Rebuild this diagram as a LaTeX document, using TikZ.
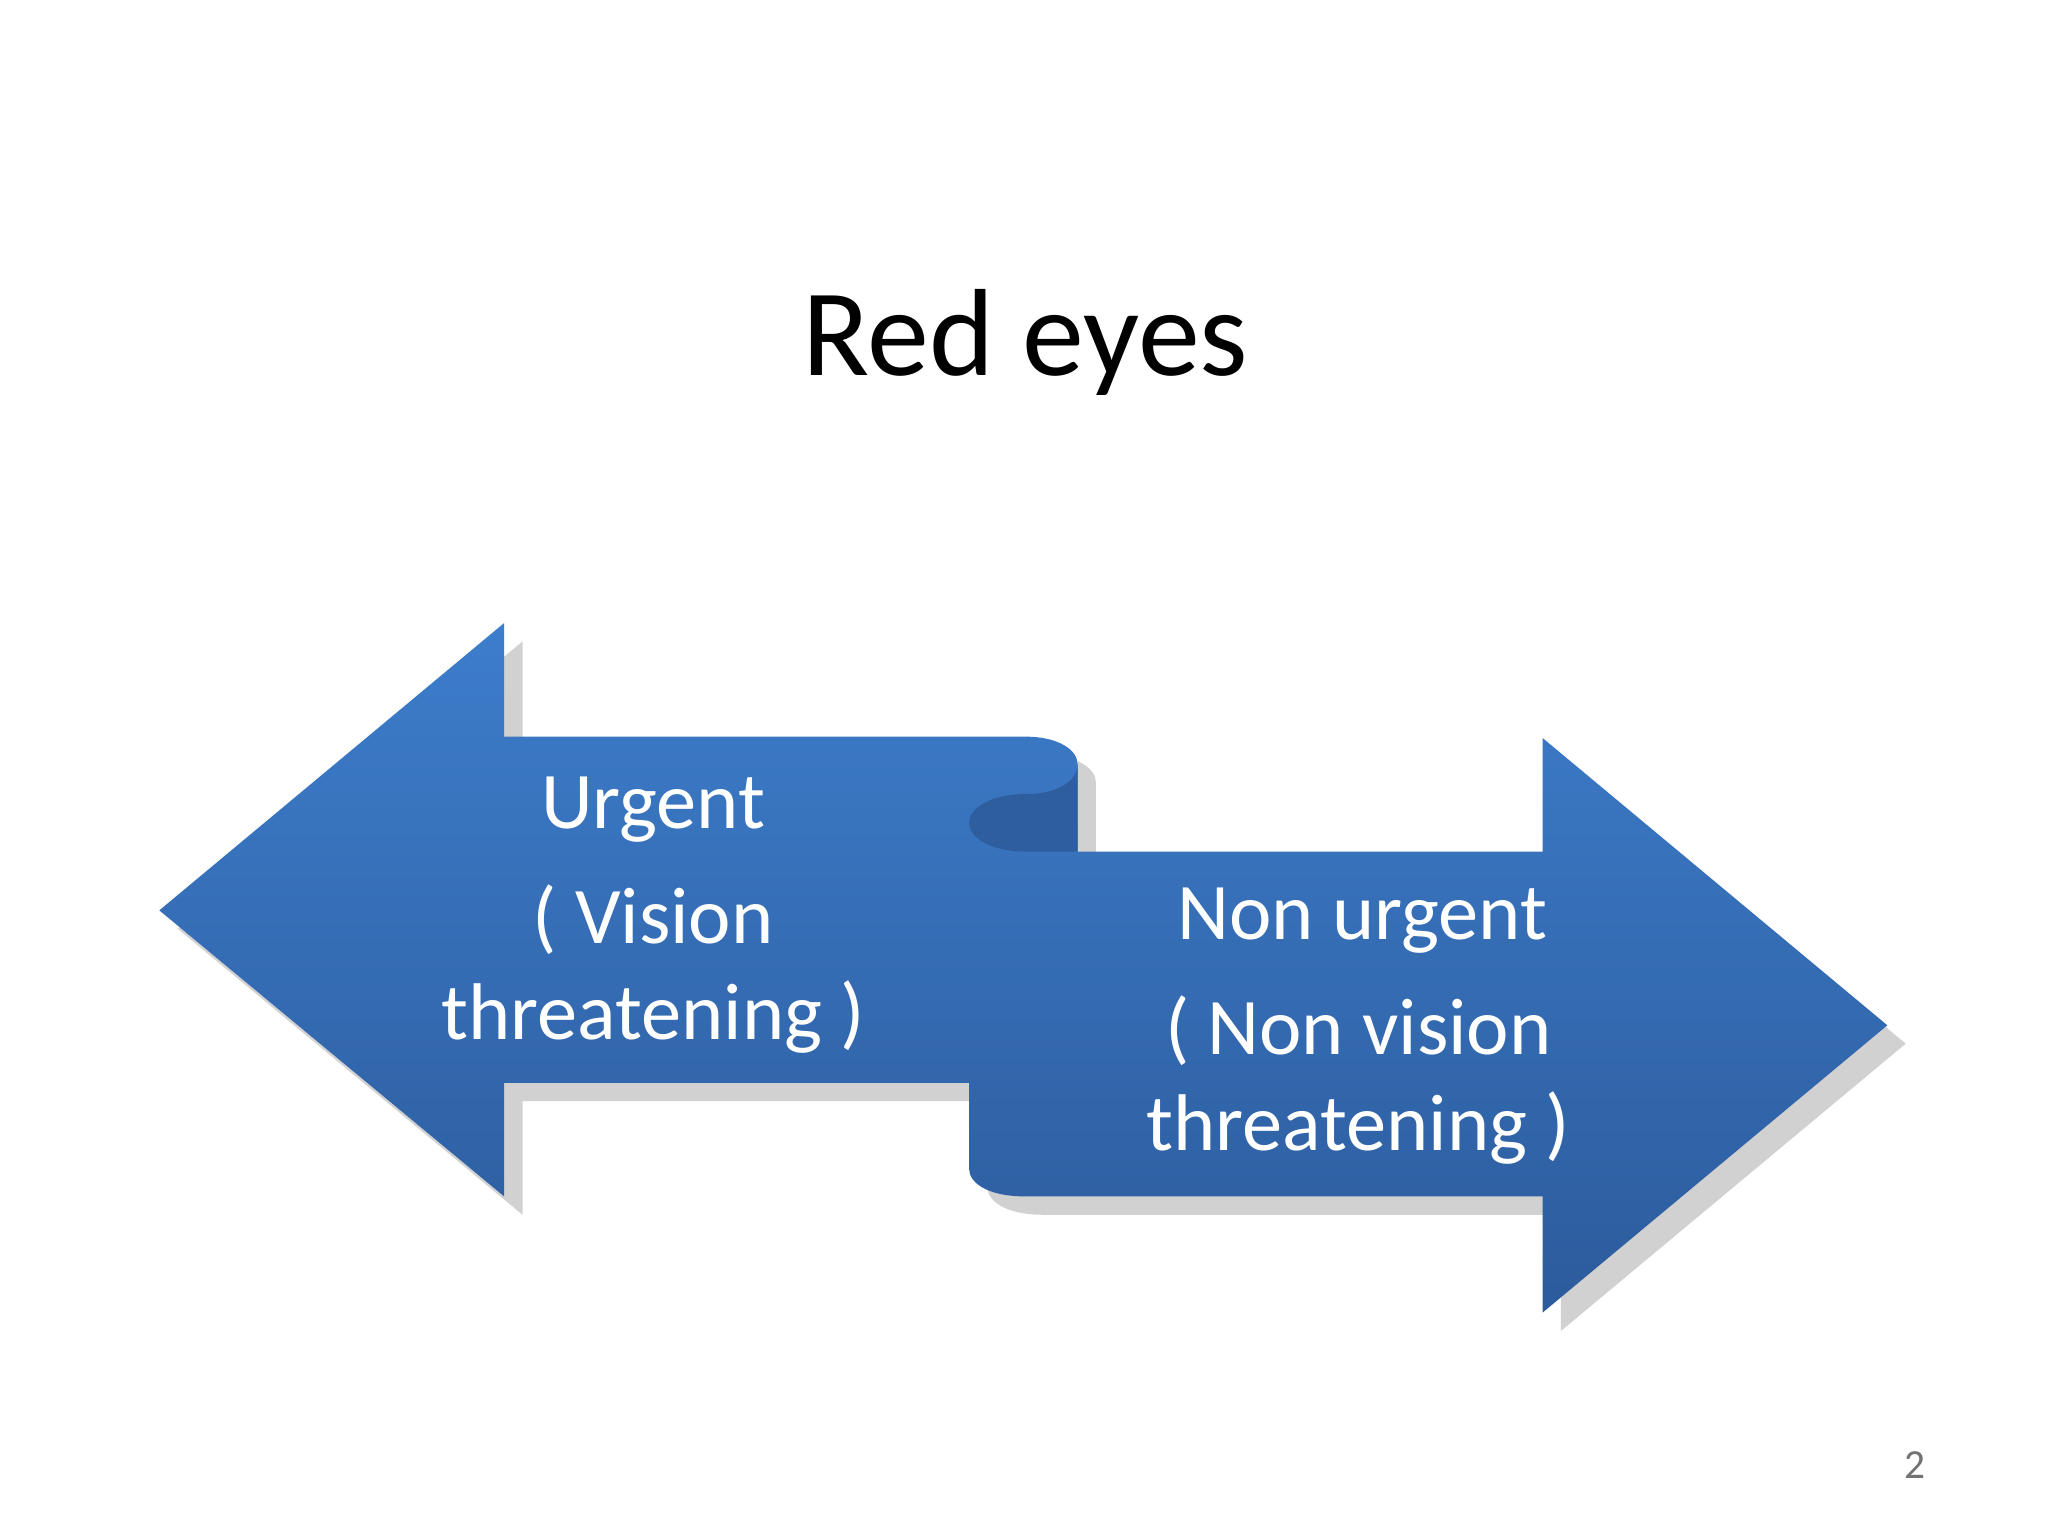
\documentclass[tikz,border=0pt]{standalone}
\usepackage{fontspec}
\setmainfont{Carlito}
\definecolor{atop}{HTML}{3D7DCB}
\definecolor{abot}{HTML}{2C5B9C}
\definecolor{curl}{HTML}{2F5E9E}
\begin{document}
\begin{tikzpicture}[x=0.01cm,y=-0.01cm,
  lbl/.style={text=white,font=\fontsize{17.5pt}{21pt}\selectfont,align=center,inner sep=0pt}]
\useasboundingbox (0,0) rectangle (1568,1176);
\fill[white] (0,0) rectangle (1568,1176);
\node[font=\fontsize{27pt}{32pt}\selectfont,inner sep=0pt] (title) at (785,262) {Red eyes};
% shadow
\fill[black!18,xshift=4,yshift=-4] (122,697) -- (386,477) -- (386,564) -- (785,564)
  .. controls (810,564) and (825,574) .. (825,585) -- (825,652) -- (1181,652) -- (1181,565)
  -- (1445,785) -- (1181,1005) -- (1181,916) -- (785,916)
  .. controls (755,916) and (742,905) .. (742,895) -- (742,829) -- (386,829) -- (386,916) -- cycle;
\shade[top color=atop,bottom color=abot] (122,697) -- (386,477) -- (386,564) -- (785,564)
  .. controls (810,564) and (825,574) .. (825,585) -- (825,652) -- (1181,652) -- (1181,565)
  -- (1445,785) -- (1181,1005) -- (1181,916) -- (785,916)
  .. controls (755,916) and (742,905) .. (742,895) -- (742,829) -- (386,829) -- (386,916) -- cycle;
\fill[curl] (825,585) .. controls (825,598) and (810,608) .. (785,608)
  .. controls (760,608) and (742,618) .. (742,630)
  .. controls (742,642) and (760,652) .. (785,652) -- (825,652) -- cycle;
\node[lbl] (u1) at (500,620) {Urgent};
\node[lbl] (u2) at (500,742) {( Vision\\threatening )};
\node[lbl] (n1) at (1043,705) {Non urgent};
\node[lbl] (n2) at (1040,827) {( Non vision\\threatening )};
\node[text=black!55,font=\fontsize{9pt}{10pt}\selectfont,inner sep=0pt] (pg) at (1466,1122) {2};
\end{tikzpicture}
\end{document}
